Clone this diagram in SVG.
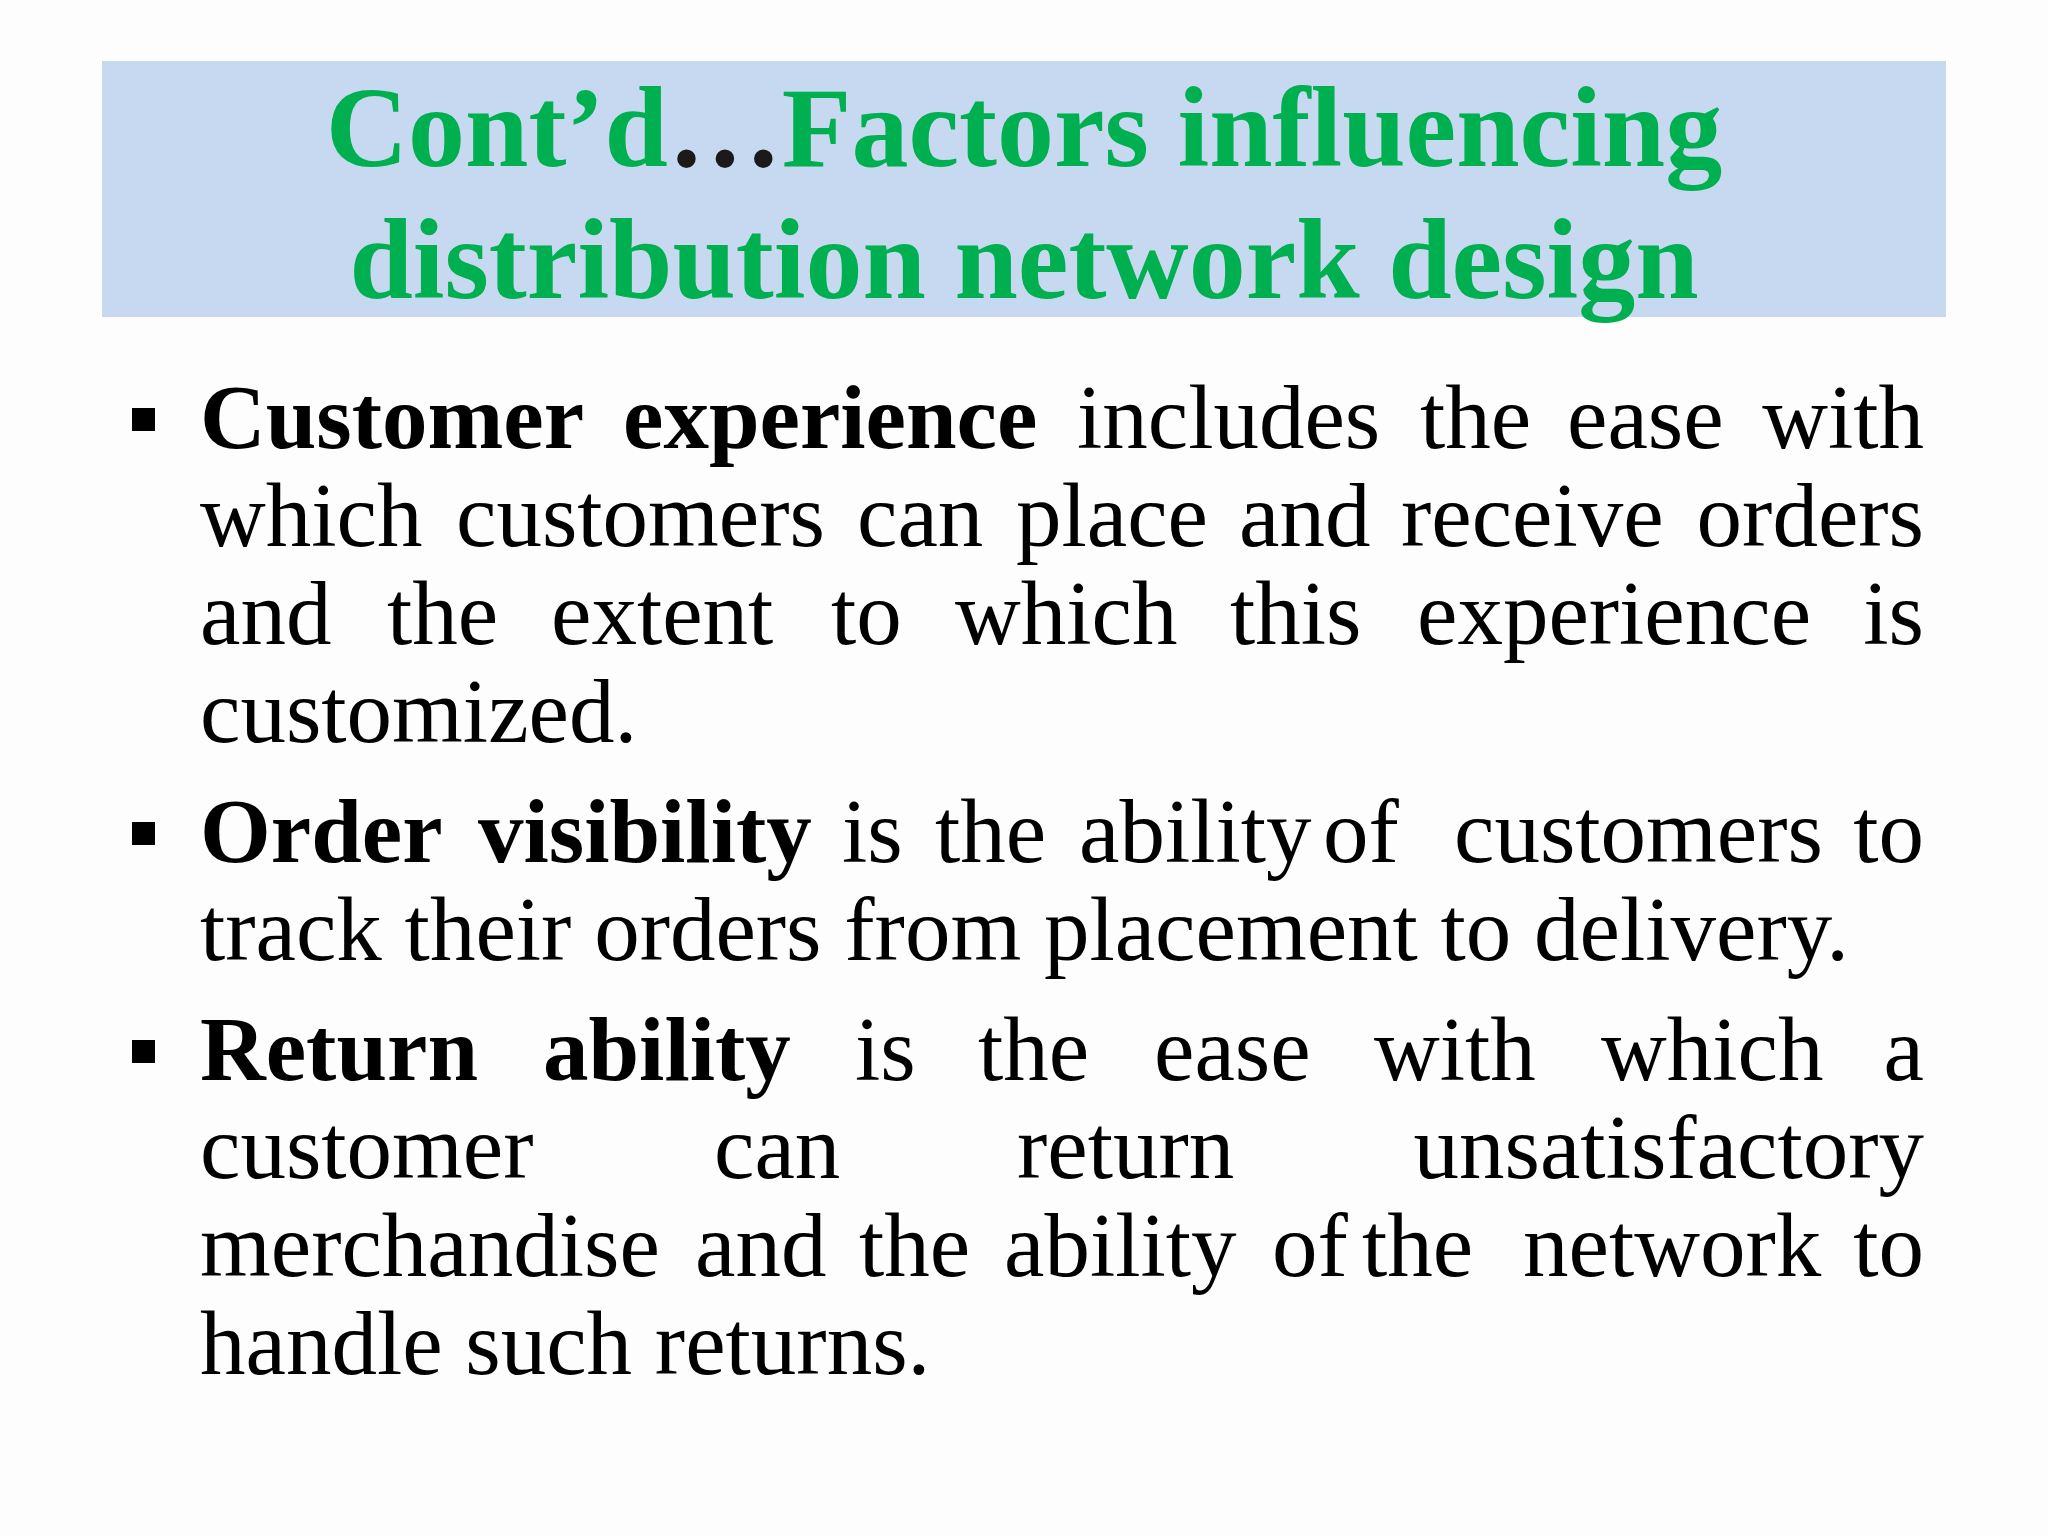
<svg xmlns="http://www.w3.org/2000/svg" width="2048" height="1536" viewBox="0 0 2048 1536">
<style>
.t{font-family:"Liberation Serif","Times New Roman",serif;font-weight:bold;font-size:114px;fill:#00b050}
.b{font-family:"Liberation Serif","Times New Roman",serif;font-size:91px;fill:#000}
.e{text-anchor:end}
.k{font-weight:bold}
</style>
<rect width="2048" height="1536" fill="#fdfdfd"/>
<g id="header">
<rect x="102" y="61" width="1844" height="256" fill="#c6d9f0"/>
<text class="t" x="1024" y="166" text-anchor="middle">Cont’d<tspan fill="#1a1a1a">…</tspan>Factors influencing</text>
<text class="t" x="1024" y="298" text-anchor="middle">distribution network design</text>
</g>
<g id="bullet1">
<rect x="132" y="408" width="23" height="23" fill="#000"/>
<text class="b" y="448"><tspan class="k" x="200">Customer</tspan><tspan class="k" x="623">experience</tspan><tspan x="1077">includes</tspan><tspan x="1420">the</tspan><tspan x="1567">ease</tspan></text>
<text class="b e" x="1924" y="448">with</text>
<text class="b" y="546"><tspan x="200">which</tspan><tspan x="456">customers</tspan><tspan x="857">can</tspan><tspan x="1016">place</tspan><tspan x="1239">and</tspan><tspan x="1401">receive</tspan></text>
<text class="b e" x="1924" y="546">orders</text>
<text class="b" y="644"><tspan x="200">and</tspan><tspan x="387">the</tspan><tspan x="551">extent</tspan><tspan x="831">to</tspan><tspan x="955">which</tspan><tspan x="1230">this</tspan><tspan x="1417">experience</tspan></text>
<text class="b e" x="1924" y="644">is</text>
<text class="b" x="200" y="742">customized.</text>
</g>
<g id="bullet2">
<rect x="132" y="822" width="23" height="23" fill="#000"/>
<text class="b" y="862"><tspan class="k" x="200">Order</tspan><tspan class="k" x="478">visibility</tspan><tspan x="842">is</tspan><tspan x="935">the</tspan><tspan x="1079">ability</tspan><tspan x="1323">of</tspan><tspan x="1454">customers</tspan></text>
<text class="b e" x="1924" y="862">to</text>
<text class="b" x="200" y="960">track their orders from placement to delivery.</text>
</g>
<g id="bullet3">
<rect x="132" y="1040" width="23" height="23" fill="#000"/>
<text class="b" y="1080"><tspan class="k" x="200">Return</tspan><tspan class="k" x="543">ability</tspan><tspan x="855">is</tspan><tspan x="978">the</tspan><tspan x="1154">ease</tspan><tspan x="1374">with</tspan><tspan x="1601">which</tspan></text>
<text class="b e" x="1924" y="1080">a</text>
<text class="b" y="1178"><tspan x="200">customer</tspan><tspan x="714">can</tspan><tspan x="1017">return</tspan></text>
<text class="b e" x="1924" y="1178">unsatisfactory</text>
<text class="b" y="1276"><tspan x="200">merchandise</tspan><tspan x="695">and</tspan><tspan x="859">the</tspan><tspan x="1004">ability</tspan><tspan x="1272">of</tspan><tspan x="1362">the</tspan><tspan x="1523">network</tspan></text>
<text class="b e" x="1924" y="1276">to</text>
<text class="b" x="200" y="1374">handle such returns.</text>
</g>
<g id="connectors"/>
</svg>
